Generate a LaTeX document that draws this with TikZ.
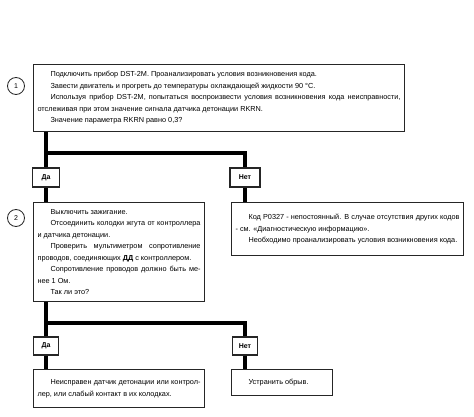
\documentclass[tikz,border=0pt]{standalone}
\usepackage{fontspec}
\setmainfont{Liberation Sans}
\newcommand\ind{\hspace*{13pt}}
\newcommand\boxsetup{\hyphenpenalty=10000\relax\exhyphenpenalty=10000\relax\tolerance=10000\relax}
\tikzset{
  box/.style={draw=black!85, line width=1.1pt, fill=white, anchor=north west,
    inner xsep=4pt, inner ysep=0pt, align=justify,
    font=\fontsize{7.3}{11.5}\selectfont\boxsetup},
  tag/.style={draw=black!85, line width=1.1pt, fill=white,
    font=\bfseries\fontsize{7}{8}\selectfont, minimum height=19pt, inner sep=0pt},
  num/.style={circle, draw=black!85, line width=0.8pt, minimum size=17pt, inner sep=0pt,
    font=\fontsize{7}{8}\selectfont},
  link/.style={line width=3.2pt}
}
\begin{document}
\begin{tikzpicture}[x=1pt,y=-1pt]
\useasboundingbox (0,0) rectangle (474,417);
% step 1
\node[num] (n1) at (16,86) {1};
\node[box, text width=363pt, minimum height=67pt] (b1) at (33,64) {%
\ind Подключить прибор DST-2M. Проанализировать условия возникновения кода.\par
\ind Завести двигатель и прогреть до температуры охлаждающей жидкости 90 °С.\par
\ind Используя прибор DST-2M, попытаться воспроизвести условия возникновения кода неисправности,\linebreak отслеживая при этом значение сигнала датчика детонации RKRN.\par
\ind Значение параметра RKRN равно 0,3?};
\node[tag, minimum width=27pt] (da1) at (46,177.5) {Да};
\node[tag, minimum width=30pt] (nt1) at (245,177.5) {Нет};
% step 2
\node[num] (n2) at (16,218) {2};
\node[box, text width=163pt, minimum height=99pt] (b2) at (33,202) {%
\ind Выключить зажигание.\par
\ind Отсоединить колодки жгута от контроллера\linebreak и датчика детонации.\par
\ind Проверить мультиметром сопротивление\linebreak проводов, соединяющих \textbf{ДД} с контроллером.\par
\ind Сопротивление проводов должно быть ме-\linebreak нее 1~Ом.\par
\ind Так ли это?};
\node[box, text width=224pt, minimum height=53pt] (b3) at (231,202) {%
\ind Код P0327 - непостоянный. В случае отсутствия других кодов\linebreak - см. «Диагностическую информацию».\par
\ind Необходимо проанализировать условия возникновения кода.};
\node[tag, minimum width=25pt, minimum height=18pt] (da2) at (46,346) {Да};
\node[tag, minimum width=25pt, minimum height=18pt] (nt2) at (245,346) {Нет};
\node[box, text width=163pt, minimum height=38pt] (b4) at (33,369) {%
\ind Неисправен датчик детонации или контрол-\linebreak лер, или слабый контакт в их колодках.};
\node[box, text width=93pt, minimum height=26pt] (b5) at (231,369) {%
\ind Устранить обрыв.};
% connectors
\coordinate (j1) at (46,153);
\coordinate (j2) at (46,323);
\draw[link] (b1.south -| da1) -- (da1.north);
\draw[link] (j1) -| (nt1.north);
\draw[link] (da1.south) -- (b2.north -| da1);
\draw[link] (nt1.south) -- (b3.north -| nt1);
\draw[link] (b2.south -| da2) -- (da2.north);
\draw[link] (j2) -| (nt2.north);
\draw[link] (da2.south) -- (b4.north -| da2);
\draw[link] (nt2.south) -- (b5.north -| nt2);
\end{tikzpicture}
\end{document}
